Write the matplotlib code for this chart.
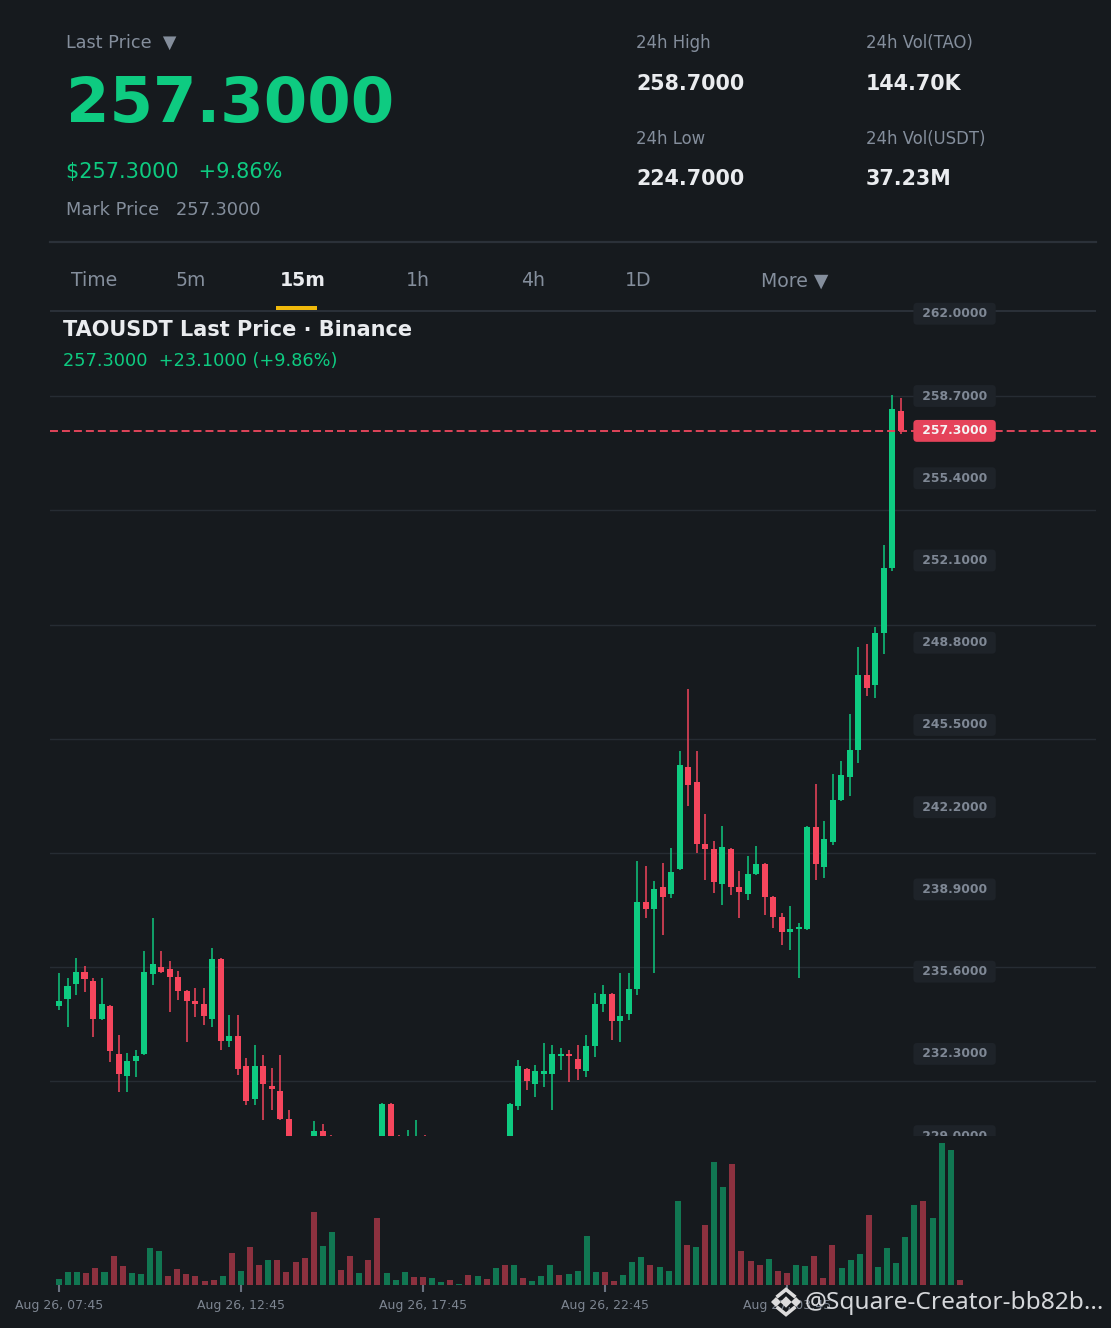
import matplotlib
matplotlib.use("Agg")
import matplotlib.pyplot as plt
from matplotlib.lines import Line2D
from matplotlib.patches import Rectangle

W, H = 1111, 1328
BG = '#161a1e'
GREEN = '#0ecb81'
RED = '#f6465d'
GREY = '#848e9c'
RULE = '#2b3139'

# 15m candles (index 28-52 mostly sit below the clipped pane)
opens = [234.22, 234.50, 235.10, 235.58, 235.22, 233.70, 234.22, 232.29, 231.41, 232.01,
         232.29, 235.50, 235.78, 235.70, 235.38, 234.82, 234.42, 234.30, 233.70, 236.11,
         232.81, 233.02, 231.81, 230.49, 231.81, 231.01, 230.81, 229.68, 228.30, 226.50,
         227.60, 229.20, 227.50, 226.80, 227.40, 226.40, 224.90, 225.60, 226.20, 230.29,
         227.70, 227.30, 227.90, 228.40, 227.90, 228.20, 227.60, 228.20, 227.80, 228.50,
         227.70, 228.30, 228.00, 228.30, 230.21, 231.69, 231.09, 231.49, 231.49, 232.21,
         232.29, 232.09, 231.61, 232.61, 234.30, 234.70, 233.62, 233.90, 234.90, 238.39,
         238.11, 238.99, 238.71, 239.72, 243.81, 243.21, 240.72, 240.52, 239.12, 240.52,
         238.99, 238.71, 239.52, 239.92, 238.59, 237.79, 237.19, 237.31, 237.31, 241.40,
         239.80, 240.80, 242.49, 243.41, 244.49, 247.50, 247.10, 249.19, 251.80, 258.10]
closes = [234.42, 235.02, 235.58, 235.30, 233.70, 234.30, 232.41, 231.49, 232.01, 232.21,
          235.58, 235.90, 235.58, 235.38, 234.82, 234.42, 234.30, 233.82, 236.11, 232.81,
          233.02, 231.69, 230.41, 231.81, 231.09, 230.89, 229.68, 228.30, 226.50, 227.60,
          229.20, 227.50, 226.80, 227.40, 226.40, 224.90, 225.60, 226.20, 230.29, 227.70,
          227.30, 227.90, 228.40, 227.90, 228.20, 227.60, 228.20, 227.80, 228.50, 227.70,
          228.30, 228.00, 228.30, 230.29, 231.81, 231.21, 231.61, 231.61, 232.29, 232.29,
          232.21, 231.69, 232.61, 234.30, 234.70, 233.62, 233.82, 234.90, 238.39, 238.11,
          238.91, 238.59, 239.60, 243.89, 243.09, 240.72, 240.52, 239.20, 240.60, 238.99,
          238.79, 239.52, 239.92, 238.59, 237.79, 237.19, 237.31, 237.39, 241.40, 239.92,
          240.92, 242.49, 243.49, 244.49, 247.50, 246.98, 249.19, 251.80, 258.18, 257.30]
highs = [235.54, 235.34, 236.15, 235.82, 235.34, 235.34, 234.26, 233.06, 232.33, 232.45,
         236.43, 237.75, 236.43, 236.03, 235.62, 234.86, 234.94, 234.94, 236.55, 236.15,
         233.86, 233.86, 232.13, 232.65, 232.25, 231.73, 232.25, 230.05, 228.60, 228.20,
         229.60, 229.48, 229.04, 228.00, 227.90, 226.80, 226.20, 226.70, 230.33, 230.33,
         229.04, 229.24, 229.64, 229.04, 228.60, 228.50, 228.60, 228.50, 228.90, 228.80,
         228.70, 228.60, 228.70, 230.33, 232.05, 231.73, 231.85, 232.73, 232.65, 232.53,
         232.45, 232.65, 233.06, 234.74, 235.06, 234.74, 235.54, 235.54, 240.04, 239.84,
         239.24, 239.96, 240.56, 244.45, 246.94, 244.45, 241.92, 240.84, 241.44, 240.56,
         239.64, 240.24, 240.64, 239.96, 238.63, 237.95, 238.23, 237.55, 241.44, 243.13,
         241.64, 243.53, 244.05, 245.94, 248.63, 248.75, 249.43, 252.72, 258.74, 258.62]
lows = [234.06, 233.38, 234.66, 234.78, 232.97, 233.66, 231.97, 230.77, 230.77, 231.37,
        232.25, 235.06, 235.54, 233.98, 234.46, 232.77, 233.78, 233.46, 233.38, 232.45,
        232.57, 231.45, 230.25, 230.25, 229.64, 230.05, 229.64, 227.90, 226.00, 226.10,
        227.20, 227.00, 226.30, 226.50, 226.00, 224.70, 224.70, 225.20, 225.90, 227.20,
        227.00, 227.00, 227.60, 227.50, 227.60, 227.20, 227.30, 227.50, 227.50, 227.30,
        227.40, 227.70, 227.80, 228.00, 230.05, 230.85, 230.57, 230.97, 230.05, 231.65,
        231.17, 231.25, 231.37, 232.17, 233.98, 232.85, 232.77, 233.66, 234.66, 237.75,
        235.54, 237.07, 238.55, 239.68, 242.25, 240.36, 239.28, 238.75, 238.27, 238.67,
        237.75, 238.47, 239.48, 237.87, 237.35, 236.67, 236.47, 235.34, 237.27, 239.28,
        239.36, 240.68, 242.45, 242.65, 243.97, 246.66, 246.58, 248.34, 251.68, 257.18]
volumes = [6, 13, 13, 12, 17, 13, 29, 19, 12, 11, 37, 34, 9, 16, 11, 9, 4, 5, 9, 32,
           14, 38, 20, 25, 25, 13, 23, 27, 73, 39, 53, 15, 29, 12, 25, 67, 12, 5, 13, 8,
           8, 7, 3, 5, 1, 10, 9, 6, 17, 20, 20, 7, 4, 9, 20, 10, 11, 14, 49, 13,
           13, 4, 10, 23, 28, 20, 18, 14, 84, 40, 38, 60, 123, 98, 121, 34, 24, 20, 26, 14,
           12, 20, 19, 29, 7, 40, 17, 25, 31, 70, 18, 37, 22, 48, 80, 84, 67, 142, 135, 5]

price_labels = [262.0, 258.7, 255.4, 252.1, 248.8, 245.5, 242.2, 238.9, 235.6, 232.3, 229.0]
grid_prices = [258.7, 254.13, 249.53, 244.94, 240.36, 235.78, 231.21]
last_price = 257.3
time_ticks = [0, 20, 40, 60, 80]
time_labels = ['Aug 26, 07:45', 'Aug 26, 12:45', 'Aug 26, 17:45', 'Aug 26, 22:45', 'Aug 27, 03:45']
tabs = ['Time', '5m', '15m', '1h', '4h', '1D', 'More ▼']
tab_x = [71, 176, 280, 406, 521, 625, 761]
stats = [('24h High', '258.7000', 636), ('24h Low', '224.7000', 636),
         ('24h Vol(TAO)', '144.70K', 866), ('24h Vol(USDT)', '37.23M', 866)]

fig = plt.figure(figsize=(W / 100, H / 100), dpi=100, facecolor=BG)


def px(x, y):
    return x / W, 1 - y / H


def label(x, y, s, size, color=GREY, weight='normal', **kw):
    fig.text(*px(x, y), s, fontsize=size, color=color, fontweight=weight, va='center', **kw)


def box(left, top, width, height):
    return [left / W, 1 - (top + height) / H, width / W, height / H]


# header
label(66, 43, 'Last Price  ▼', 12.7)
label(66, 105, '257.3000', 45, GREEN, 'bold')
label(66, 172, '$257.3000   +9.86%', 15, GREEN)
label(66, 210, 'Mark Price   257.3000', 12.75)
for n, (name, value, x) in enumerate(stats):
    row = n % 2
    label(x, 43 + row * 96, name, 11.9)
    label(x, 84 + row * 95, value, 14.9, '#eaecef', 'bold')

# tabs
for name, x in zip(tabs, tab_x):
    if name == '15m':
        label(x, 281, name, 13.6, '#eaecef', 'bold')
    else:
        label(x, 281, name, 13.6)
fig.add_artist(Rectangle(px(276, 310), 41 / W, 4 / H, transform=fig.transFigure, color='#f0b90b', lw=0))

# price pane, 24.92 px per unit
ax = fig.add_axes(box(50, 300, 1046, 836), facecolor=BG)
ax.set_xlim(-1.058, 121.93)
ax.set_ylim(258.7 - 740 / 24.92, 258.7 + 96 / 24.92)
ax.set_xticks([])
ax.set_yticks([])
for side in ax.spines.values():
    side.set_visible(False)
for p in grid_prices:
    ax.axhline(p, color=RULE, lw=1, alpha=0.8, zorder=1)
# separator under the tabs, behind the 262 tag
ax.axhline(258.7 + 85 / 24.92, color=RULE, lw=1.4, zorder=1)

x = list(range(len(opens)))
colors = [GREEN if c >= o else RED for o, c in zip(opens, closes)]
ax.vlines(x, lows, highs, colors=colors, lw=1.45, alpha=0.75, zorder=2)
ax.bar(x, [abs(c - o) for o, c in zip(opens, closes)], bottom=[min(o, c) for o, c in zip(opens, closes)],
       width=0.71, color=colors, lw=0, zorder=3)
ax.axhline(last_price, color='#e0455a', lw=1.4, dashes=(4.1, 2.05), zorder=4)

yax = ax.get_yaxis_transform()
for p in price_labels:
    ax.text(0.8648, p, f' {p:.4f} ', transform=yax, ha='center', va='center', fontsize=8.9, fontweight='bold',
            color='#7f8895', zorder=5, clip_on=True,
            bbox=dict(boxstyle='round,pad=0.36,rounding_size=0.3', fc='#1e2329', ec='none'))
ax.text(0.8648, last_price, f' {last_price:.4f} ', transform=yax, ha='center', va='center', fontsize=8.9,
        fontweight='bold', color='#f5f5f5', zorder=6,
        bbox=dict(boxstyle='round,pad=0.36,rounding_size=0.3', fc='#e5435a', ec='none'))

fig.add_artist(Line2D([50 / W, 1096 / W], [1 - 241.5 / H] * 2, color=RULE, lw=1.6))

label(63, 330, 'TAOUSDT Last Price · Binance', 15, '#eaecef', 'bold')
label(63, 361, '257.3000  +23.1000 (+9.86%)', 12.75, GREEN)

# volume pane has its own, wider x spacing
vax = fig.add_axes(box(50, 1136, 1046, 149), facecolor=BG, zorder=2)
vax.set_xlim(-0.989, 113.96)
vax.set_ylim(0, 149)
vax.bar(x, volumes, width=0.66, color=colors, alpha=0.53, lw=0)
vax.set_yticks([])
vax.set_xticks(time_ticks)
vax.set_xticklabels(time_labels, fontsize=9, color='#7d8591')
vax.tick_params(axis='x', length=5, width=1.5, color='#6a7280', pad=5)
for side in vax.spines.values():
    side.set_visible(False)

# watermark
wm = fig.add_axes([0, 0, 1, 1], facecolor='none', zorder=5)
wm.set_xlim(0, W)
wm.set_ylim(H, 0)
wm.axis('off')
wm.scatter([776, 786, 796], [1302, 1302, 1302], marker='D', s=[26, 34, 26], color='#dcdcdc', lw=0)
wm.plot([778, 786, 794], [1296, 1289.5, 1296], color='#dcdcdc', lw=2.6, solid_joinstyle='miter')
wm.plot([778, 786, 794], [1308, 1314.5, 1308], color='#dcdcdc', lw=2.6, solid_joinstyle='miter')
wm.text(805, 1303, '@Square-Creator-bb82b...', fontsize=17.6, color='#d5d7da', va='center', family='Noto Sans')

fig.savefig('out.png', dpi=100, facecolor=BG)
